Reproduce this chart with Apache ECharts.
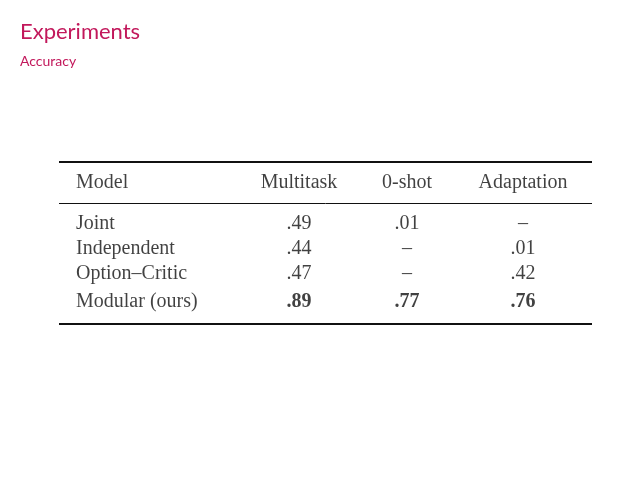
<!DOCTYPE html>
<html><head><meta charset="utf-8">
<script src="https://cdn.jsdelivr.net/npm/echarts@6/dist/echarts.min.js"></script>
<style>html,body{margin:0;padding:0;background:#fff}#c{width:638px;height:479px}</style>
</head><body><div id="c"></div>
<script>
const headers = ['Model','Multitask','0-shot','Adaptation'];
const models = ['Joint','Independent','Option\u2013Critic','Modular (ours)'];
const multitask = ['.49','.44','.47','.89'];
const zeroShot = ['.01','\u2013','\u2013','.77'];
const adaptation = ['\u2013','.01','.42','.76'];
const boldRow = 3;

// layout (pixel space of the slide)
const colX = [76, 299, 407, 523];
const colAlign = ['left','center','center','center'];
const rowY = [183, 224, 249, 274, 302];

const data = [];
headers.forEach((h,c)=>data.push({value:[colX[c],rowY[0]],label:{formatter:h,align:colAlign[c]}}));
const cols = [models, multitask, zeroShot, adaptation];
models.forEach((m,r)=>{
  cols.forEach((col,c)=>{
    data.push({value:[colX[c],rowY[r+1]],label:{formatter:col[r],align:colAlign[c],
      fontWeight:(r===boldRow&&c>0)?'bold':'normal'}});
  });
});

const chart = echarts.init(document.getElementById('c'));
chart.setOption({
  animation:false,
  title:[{text:'Experiments',left:15,top:16,textStyle:{color:'#c2185b',fontSize:22,fontWeight:'normal',fontFamily:'Lato'}},
         {text:'Accuracy',left:15,top:49,textStyle:{color:'#c2185b',fontSize:14,fontWeight:'normal',fontFamily:'Lato'}}],
  grid:{left:0,right:0,top:0,bottom:0},
  xAxis:{type:'value',min:0,max:638,show:false},
  yAxis:{type:'value',min:0,max:479,inverse:true,show:false},
  series:[{type:'scatter',symbolSize:0,data:data,
    label:{show:true,position:'inside',color:'#111',fontSize:20,fontFamily:'Liberation Serif',verticalAlign:'middle'},
    markLine:{symbol:'none',silent:true,label:{show:false},
      data:[
        [{coord:[59,162],lineStyle:{width:2}},{coord:[592,162]}],
        [{coord:[59,203],lineStyle:{width:1}},{coord:[592,203]}],
        [{coord:[59,324],lineStyle:{width:2}},{coord:[592,324]}]
      ],lineStyle:{color:'#111',type:'solid'}}
  }]
});
</script></body></html>
